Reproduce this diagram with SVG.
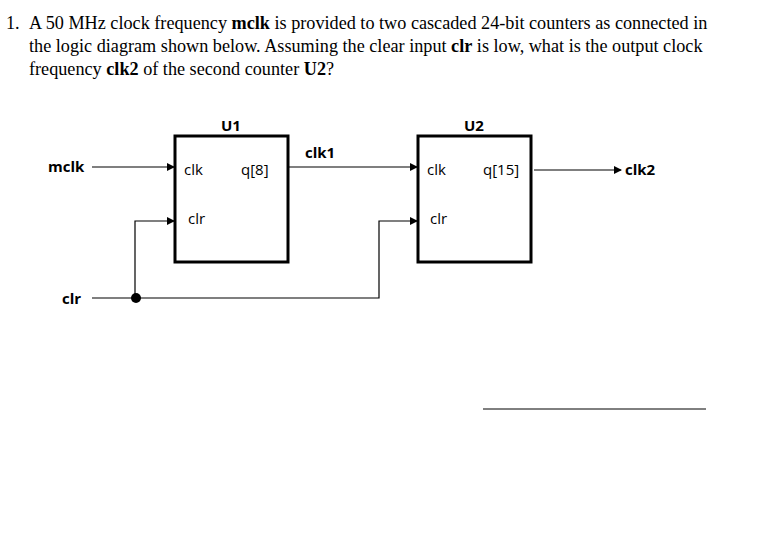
<svg xmlns="http://www.w3.org/2000/svg" width="776" height="543" viewBox="0 0 776 543">
<style>
.q{font-family:"Liberation Serif",serif;font-size:18.2px;fill:#000}
.t{font-family:"Open Sans",sans-serif;font-size:15px;fill:#000}
.b{font-weight:bold}
.box{fill:#fff;stroke:#000;stroke-width:3}
.w{fill:none;stroke:#000;stroke-width:1.2}
</style>
<defs><marker id="a" markerWidth="8" markerHeight="8" refX="7" refY="4" orient="auto" markerUnits="userSpaceOnUse"><path d="M0,0L8,4L0,8Z" fill="#000"/></marker></defs>
<text class="q" x="6" y="29">1.</text>
<text class="q" x="29" y="29">A 50 MHz clock frequency <tspan class="b">mclk</tspan> is provided to two cascaded 24-bit counters as connected in</text>
<text class="q" x="29" y="52">the logic diagram shown below.  Assuming the clear input <tspan class="b">clr</tspan> is low, what is the output clock</text>
<text class="q" x="29" y="75">frequency <tspan class="b">clk2</tspan> of the second counter <tspan class="b">U2</tspan>?</text>
<g id="U1"><rect class="box" x="175" y="136" width="113" height="126"/>
<text class="t b" x="231" y="131" text-anchor="middle" font-size="17">U1</text>
<text class="t" x="184" y="175">clk</text><text class="t" x="241" y="175">q[8]</text><text class="t" x="188" y="224">clr</text></g>
<g id="U2"><rect class="box" x="418" y="136" width="113" height="126"/>
<text class="t b" x="474" y="131" text-anchor="middle" font-size="17">U2</text>
<text class="t" x="427" y="175">clk</text><text class="t" x="483" y="175">q[15]</text><text class="t" x="430" y="224">clr</text></g>
<g id="labels"><text class="t b" x="48" y="172">mclk</text><text class="t b" x="62" y="304">clr</text>
<text class="t b" x="305" y="158">clk1</text><text class="t b" x="625" y="175">clk2</text></g>
<g id="connectors">
<path class="w" d="M92,167H174" marker-end="url(#a)"/>
<path class="w" d="M92,298H379V221H417" marker-end="url(#a)"/>
<path class="w" d="M135,298V221H174" marker-end="url(#a)"/>
<circle cx="136" cy="298" r="5" fill="#000"/>
<path class="w" d="M288,167H417" marker-end="url(#a)"/>
<path class="w" d="M534,170H621" marker-end="url(#a)"/>
</g>
<line x1="483" y1="409" x2="706" y2="409" stroke="#000" stroke-width="1"/>
</svg>
